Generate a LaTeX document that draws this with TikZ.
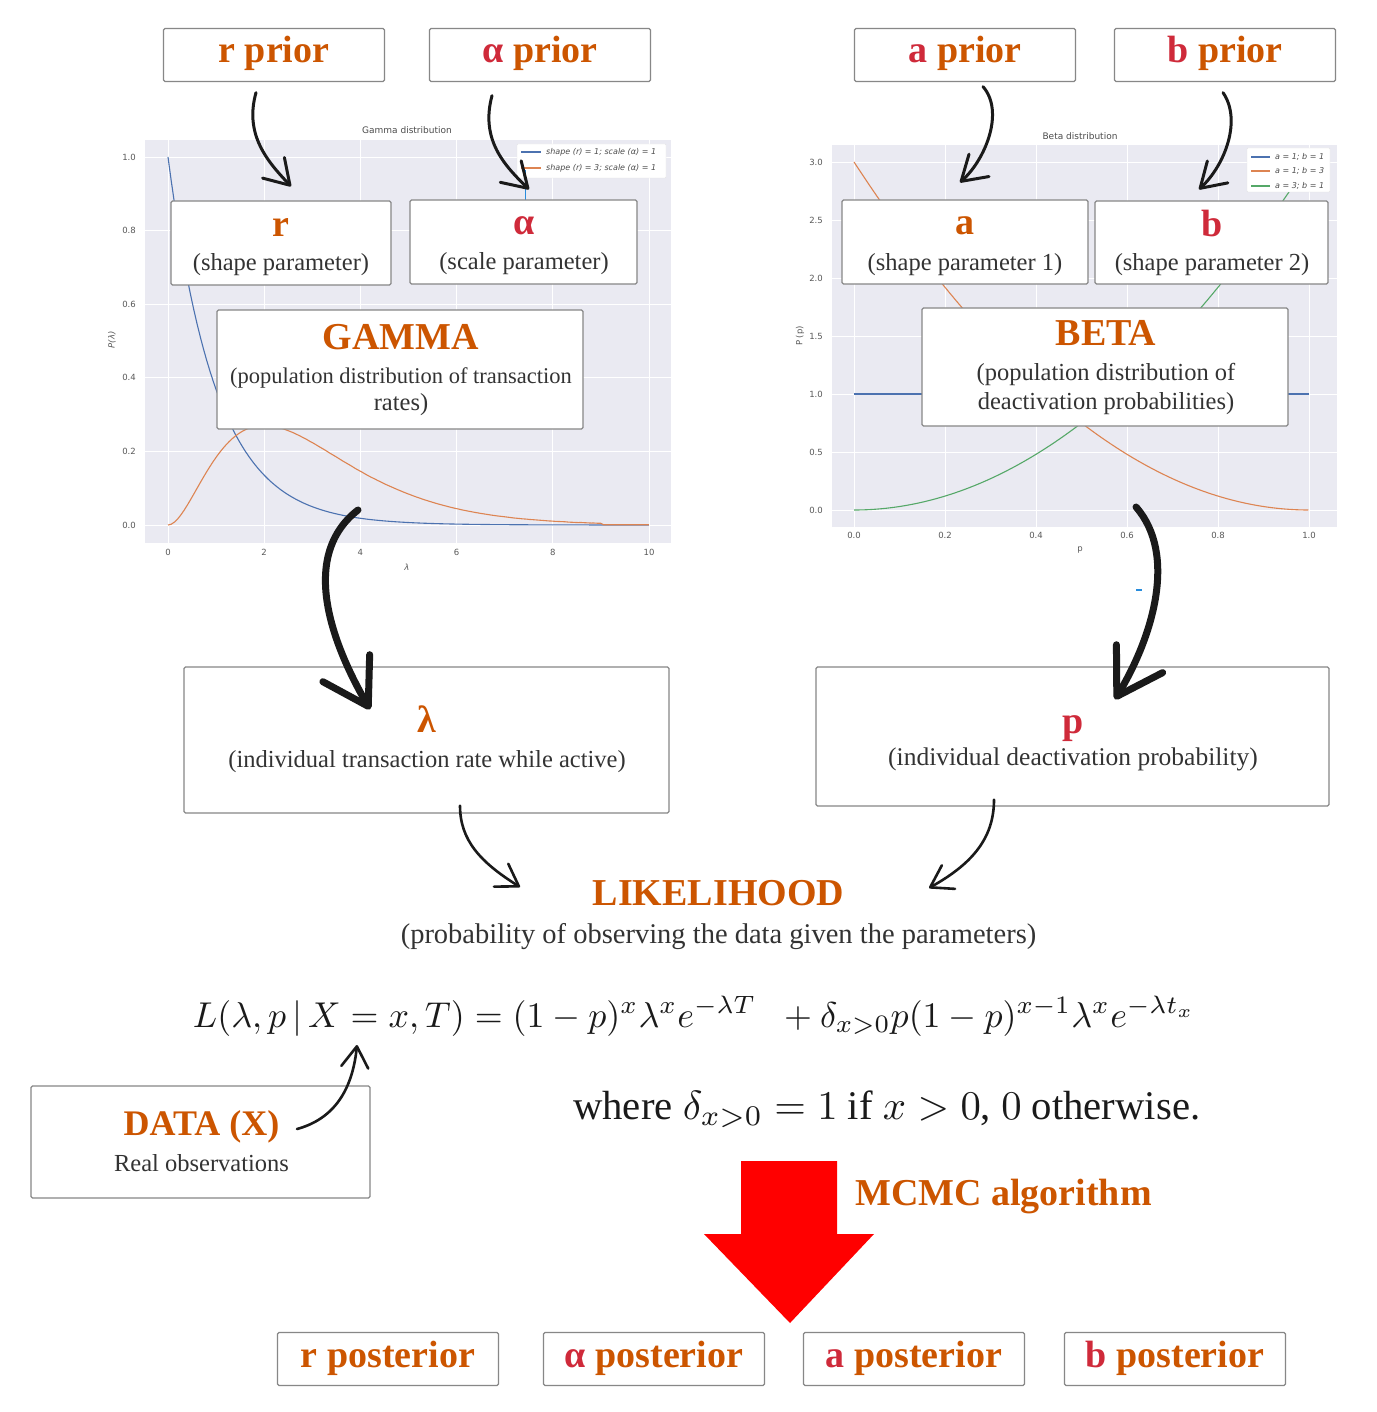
\documentclass[tikz,border=0pt]{standalone}
\usepackage{fontspec}
\setmainfont{Liberation Serif}
\setsansfont{DejaVu Sans}
\usepackage{amsmath}
\usepackage{graphicx}
\usetikzlibrary{arrows.meta,calc}
\definecolor{org}{RGB}{204,85,0}
\definecolor{crm}{RGB}{207,42,58}
\definecolor{txt}{RGB}{51,51,51}
\definecolor{boxln}{RGB}{135,135,135}
\definecolor{sbg}{RGB}{234,234,242}
\definecolor{sblue}{RGB}{76,114,176}
\definecolor{sorange}{RGB}{221,132,82}
\definecolor{sgreen}{RGB}{85,168,104}
\definecolor{ink}{RGB}{26,26,26}
\definecolor{cursor}{RGB}{40,140,220}
\newcommand\myttl{\fontsize{38}{44}\selectfont\bfseries\color{org}}
\newcommand\mydsc{\fontsize{24.5}{29}\selectfont\color{txt}}
\newcommand\myred[1]{{\color{crm}#1}}
\newcommand\plotfont{\fontsize{8.5}{10}\selectfont\sffamily}
\begin{document}
\begin{tikzpicture}[x=1pt,y=-1pt,
  box/.style={draw=boxln,line width=1.3pt,fill=white,rounded corners=1.5pt,inner sep=0pt},
  lbl/.style={anchor=base,inner sep=0pt},
  ttl/.style={lbl,font=\myttl},
  dsc/.style={lbl,font=\mydsc},
  tick/.style={font=\plotfont,text=black!65,inner sep=1pt},
  gridln/.style={white,line width=0.9pt},
  curve/.style={line width=1.1pt},
  legtxt/.style={font=\fontsize{8}{9}\selectfont\sffamily\itshape,text=black!70,inner sep=0pt,anchor=west},
  ptitle/.style={font=\fontsize{9}{11}\selectfont\sffamily,text=black!70,inner sep=0pt},
  sarr/.style={ink,line width=3pt,line cap=round,-{Straight Barb[length=24pt,width=30pt,line width=3pt,round]}},
  tarr/.style={ink,line width=2.6pt,line cap=round,-{Straight Barb[length=21pt,width=27pt,line width=2.6pt,round]}},
  barr/.style={ink,line width=7pt,line cap=round,-{Straight Barb[length=44pt,width=54pt,line width=7pt,round]}}
]
\useasboundingbox (0,0) rectangle (1376,1412);
\fill[white] (0,0) rectangle (1376,1412);

% ---------------- Gamma plot ----------------
\fill[sbg] (145,140) rectangle (671,543);
\foreach \k in {0,2,4,6,8,10}{
  \draw[gridln] ({168+48.1*\k},140) -- ({168+48.1*\k},543);
  \node[tick,anchor=north] (gx\k) at ({168+48.1*\k},548) {\k};
}
\foreach \v/\l [count=\i] in {0/0.0,0.2/0.2,0.4/0.4,0.6/0.6,0.8/0.8,1/1.0}{
  \draw[gridln] (145,{525-368*\v}) -- (671,{525-368*\v});
  \node[tick,anchor=east] (gy\i) at (137,{525-368*\v}) {\l};
}
\draw[curve,sblue] plot[domain=0:10,samples=150] ({168+48.1*\x},{525-368*exp(-\x)});
\draw[curve,sorange] plot[domain=0:10,samples=150] ({168+48.1*\x},{525-184*(\x*exp(-\x))*\x});
\node[ptitle] (gtitle) at (407,130) {Gamma distribution};
\node[tick,font=\plotfont\itshape] (gxl) at (407,567) {λ};
\node[tick,font=\plotfont\itshape,rotate=90] (gyl) at (112,340) {P(λ)};
\draw[draw=black!10,fill=white,rounded corners=1pt] (517,144) rectangle (666,178);
\draw[curve,sblue] (521,152) -- (541,152);
\draw[curve,sorange] (521,168) -- (541,168);
\node[legtxt] (gl1) at (546,152) {shape (r) = 1; scale (α) = 1};
\node[legtxt] (gl2) at (546,168) {shape (r) = 3; scale (α) = 1};
\draw[cursor,line width=0.8pt] (525,170) -- (525,200);

% ---------------- Beta plot ----------------
\fill[sbg] (832,145) rectangle (1337,527);
\foreach \v/\l [count=\i] in {0/0.0,0.2/0.2,0.4/0.4,0.6/0.6,0.8/0.8,1/1.0}{
  \draw[gridln] ({854+455*\v},145) -- ({854+455*\v},527);
  \node[tick,anchor=north] (bx\i) at ({854+455*\v},531) {\l};
}
\foreach \v/\l [count=\i] in {0/0.0,0.5/0.5,1/1.0,1.5/1.5,2/2.0,2.5/2.5,3/3.0}{
  \draw[gridln] (832,{510-116*\v}) -- (1337,{510-116*\v});
  \node[tick,anchor=east] (by\i) at (824,{510-116*\v}) {\l};
}
\draw[curve,sblue] (854,394) -- (1309,394);
\draw[curve,sorange] plot[domain=0:1,samples=100] ({854+455*\x},{510-348*(1-\x)*(1-\x)});
\draw[curve,sgreen] plot[domain=0:1,samples=100] ({854+455*\x},{510-348*\x*\x});
\node[ptitle] (btitle) at (1080,136) {Beta distribution};
\node[tick] (bxl) at (1080,550) {p};
\node[tick,rotate=90] (byl) at (800,336) {P (p)};
\draw[draw=black!10,fill=white,rounded corners=1pt] (1247,148) rectangle (1330,192);
\draw[curve,sblue] (1251,157) -- (1270,157);
\draw[curve,sorange] (1251,171) -- (1270,171);
\draw[curve,sgreen] (1251,186) -- (1270,186);
\node[legtxt] (bl1) at (1275,157) {a = 1; b = 1};
\node[legtxt] (bl2) at (1275,171) {a = 1; b = 3};
\node[legtxt] (bl3) at (1275,186) {a = 3; b = 1};
\draw[cursor,line width=1.6pt] (1136,590) -- (1142,590);

% ---------------- prior boxes ----------------
\node[box,minimum width=221pt,minimum height=53pt] (rprior) at (274,55) {};
\node[ttl] (rpriort) at (274,63) {r prior};
\node[box,minimum width=221pt,minimum height=53pt] (aprior) at (540,55) {};
\node[ttl] (apriort) at (540,63) {\myred{α} prior};
\node[box,minimum width=221pt,minimum height=53pt] (apr) at (965,55) {};
\node[ttl] (aprt) at (965,63) {\myred{a} prior};
\node[box,minimum width=221pt,minimum height=53pt] (bpr) at (1225,55) {};
\node[ttl] (bprt) at (1225,63) {\myred{b} prior};

% ---------------- parameter boxes ----------------
\node[box,minimum width=220pt,minimum height=84pt] (rbox) at (281,243) {};
\node[ttl] (rboxt) at (281,237) {r};
\node[dsc] (rboxd) at (281,271) {(shape parameter)};
\node[box,minimum width=227pt,minimum height=84pt] (albox) at (523.5,242) {};
\node[ttl,text=crm] (alboxt) at (524,235) {α};
\node[dsc] (alboxd) at (524,270) {(scale parameter)};
\node[box,minimum width=366pt,minimum height=119pt] (gamma) at (400,369.5) {};
\node[ttl] (gammat) at (401,349) {GAMMA};
\node[dsc,font=\fontsize{22.5}{27}\selectfont\color{txt}] (gammad1) at (401,383) {(population distribution of transaction};
\node[dsc] (gammad2) at (401,410) {rates)};

\node[box,minimum width=246pt,minimum height=84pt] (abox) at (965,242) {};
\node[ttl] (aboxt) at (965,235) {a};
\node[dsc] (aboxd) at (965,271) {(shape parameter 1)};
\node[box,minimum width=233pt,minimum height=83pt] (bbox) at (1211.5,242.5) {};
\node[ttl,text=crm] (bboxt) at (1212,237) {b};
\node[dsc] (bboxd) at (1212,271) {(shape parameter 2)};
\node[box,minimum width=366pt,minimum height=118pt] (beta) at (1105,367) {};
\node[ttl] (betat) at (1106,345) {BETA};
\node[dsc] (betad1) at (1106,380) {(population distribution of};
\node[dsc] (betad2) at (1106,409) {deactivation probabilities)};

% ---------------- individual boxes ----------------
\node[box,minimum width=485pt,minimum height=146pt] (lam) at (426.5,740) {};
\node[ttl] (lamt) at (427,732) {λ};
\node[dsc] (lamd) at (427,767) {(individual transaction rate while active)};
\node[box,minimum width=513pt,minimum height=139pt] (pbox) at (1072.5,736.5) {};
\node[ttl,text=crm] (pboxt) at (1073,733) {p};
\node[dsc,font=\fontsize{25.5}{30}\selectfont\color{txt}] (pboxd) at (1073,765) {(individual deactivation probability)};

% ---------------- likelihood ----------------
\node[ttl] (lht) at (718.5,905) {LIKELIHOOD};
\node[lbl,font=\fontsize{28.5}{33}\selectfont\color{txt}] (lhd) at (718.5,943) {(probability of observing the data given the parameters)};
\node[lbl,text=ink] (formula) at (694,1027) {\resizebox{1002pt}{!}{$L(\lambda, p\,|\,X=x,T)=(1-p)^x\lambda^x e^{-\lambda T}\;\;+\delta_{x>0}p(1-p)^{x-1}\lambda^x e^{-\lambda t_x}$}};
\node[lbl,anchor=base west,text=ink] (where) at (573,1119) {\resizebox{627pt}{!}{where $\delta_{x>0}=1$ if $x>0$, $0$ otherwise.}};

% ---------------- data ----------------
\node[box,minimum width=339pt,minimum height=112pt] (data) at (200.5,1142) {};
\node[ttl,font=\fontsize{36}{42}\selectfont\bfseries\color{org}] (datat) at (201.5,1135) {DATA (X)};
\node[dsc] (datad) at (201.5,1171) {Real observations};

% ---------------- MCMC ----------------
\fill[red] (741,1161) -- (837,1161) -- (837,1234) -- (874,1234) -- (790,1323) -- (704,1234) -- (741,1234) -- cycle;
\coordinate (mcmc) at (790,1323);
\node[ttl,anchor=base west] (mcmct) at (855,1205) {MCMC algorithm};

% ---------------- posteriors ----------------
\node[box,minimum width=221pt,minimum height=53pt] (rpost) at (388,1359) {};
\node[ttl] (rpostt) at (388,1367) {r posterior};
\node[box,minimum width=221pt,minimum height=53pt] (apost) at (654,1359) {};
\node[ttl] (apostt) at (654,1367) {\myred{α} posterior};
\node[box,minimum width=221pt,minimum height=53pt] (aps) at (914,1359) {};
\node[ttl] (apst) at (914,1367) {\myred{a} posterior};
\node[box,minimum width=221pt,minimum height=53pt] (bps) at (1175,1359) {};
\node[ttl] (bpst) at (1175,1367) {\myred{b} posterior};

% ---------------- arrows ----------------
\draw[sarr] ($(rprior.south)+(-18,10.5)$) .. controls (244,135) and (268,162) .. ($(rbox.north)+(10,-14)$);
\draw[sarr] ($(aprior.south)+(-48,13.5)$) .. controls (480,140) and (505,166) .. ($(albox.north)+(5.5,-10)$);
\draw[sarr] ($(apr.south)+(18,4.5)$) .. controls (1005,112) and (985,160) .. ($(abox.north)+(-5,-17)$);
\draw[sarr] ($(bpr.south)+(-2,10.5)$) .. controls (1242,120) and (1225,165) .. ($(bbox.north)+(-12.5,-11)$);

\coordinate (gstart) at (358,510);
\coordinate (bstart) at (1136,507);
\draw[barr] (gstart) .. controls (300,555) and (330,640) .. ($(lam.north)+(-56.5,43)$);
\draw[barr] (bstart) .. controls (1178,555) and (1152,638) .. ($(pbox.north)+(42.5,33)$);

\draw[tarr] ($(lam.south)+(33.5,-8)$) .. controls (460,840) and (480,862) .. ($(lht.base)+(-198.5,-18)$);
\draw[tarr] ($(pbox.south)+(-78.5,-7)$) .. controls (994,840) and (970,865) .. ($(lht.base)+(210.5,-17)$);
\draw[tarr] ($(data.center)+(96.5,-13)$) .. controls (330,1120) and (352,1095) .. ($(formula.base)+(-337,18)$);
\end{tikzpicture}
\end{document}
